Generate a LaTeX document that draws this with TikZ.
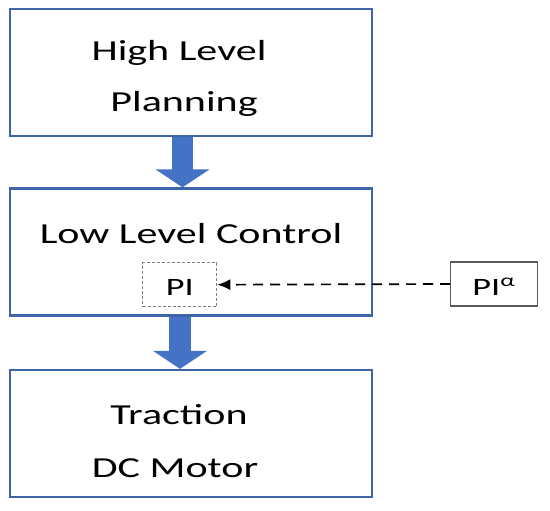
\documentclass[tikz,border=0pt]{standalone}
\usepackage{fontspec}
\setmainfont{Carlito}
\usepackage{graphicx}
\usetikzlibrary{arrows.meta, positioning}
\definecolor{boxblue}{HTML}{3F64AA}
\definecolor{arrowblue}{HTML}{4472C4}
\newcommand{\wide}[1]{\scalebox{1.45}[1]{#1}}

\begin{document}
\begin{tikzpicture}[x=0.5pt, y=-0.5pt,
    block/.style={draw=boxblue, line width=1.1pt, minimum width=181pt, minimum height=63.5pt},
    title/.style={anchor=base, inner sep=0pt, font=\fontsize{14.5}{16}\selectfont},
    ctrl/.style={minimum width=37pt, minimum height=22pt, text height=11pt, inner sep=0pt, line width=0.6pt, font=\fontsize{12.5}{14}\selectfont},
    bigarrow/.style={draw=arrowblue, line width=10.8pt, -{Triangle[width=26.5pt, length=9pt]}}]
    \useasboundingbox (0,0) rectangle (550,510);

    % Three stacked levels
    \node[block] (hlp) at (191,72.5) {};
    \node[block] (llc) at (191,252) {};
    \node[block] (dcm) at (191,433.5) {};

    % Level titles
    \node[title] (hlp1) at (179,60) {\wide{High Level}};
    \node[title] (hlp2) at (184,111) {\wide{Planning}};
    \node[title] (llct) at (191,243) {\wide{Low Level Control}};
    \node[title] (dcm1) at (179,424) {\wide{Traction}};
    \node[title] (dcm2) at (175,477) {\wide{DC Motor}};

    % Controllers
    \node[ctrl, draw=gray, dash pattern=on 1.5pt off 1pt] (pi) at (179.7,284.7) {\wide{PI}};
    \node[ctrl, draw=black!65, minimum width=43.5pt] (pia) at (494.3,284) {\wide{PI\textsuperscript{α}}};

    % Flow between levels
    \draw[bigarrow] ([xshift=-4.25pt]hlp.south) -- ([xshift=-4.25pt]llc.north);
    \draw[bigarrow] ([xshift=-5.5pt]llc.south) -- ([xshift=-5.5pt]dcm.north);
    \draw[line width=0.85pt, dash pattern=on 5pt off 3.5pt, -{Latex[length=6.5pt, width=5.5pt]}] (pia.west) -- (pi.east);
\end{tikzpicture}
\end{document}
